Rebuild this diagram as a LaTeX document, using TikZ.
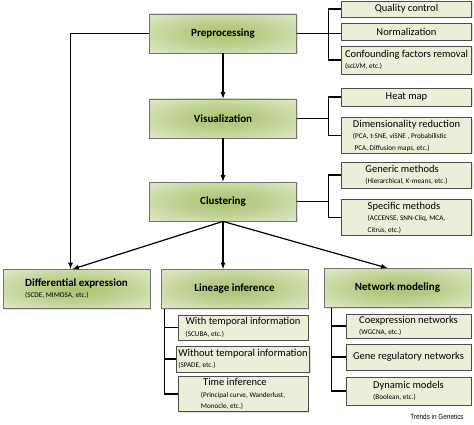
\documentclass[tikz,border=0pt]{standalone}
\usepackage{fontspec}
\setmainfont{Carlito}
\newfontfamily\creditfont{Liberation Sans}[FakeStretch=0.85]
\usetikzlibrary{positioning, shadows, arrows}
\definecolor{subfill}{HTML}{ECEEDA}
\definecolor{glowgreen}{HTML}{A9C36F}
\pgfdeclareradialshading{boxglow}{\pgfpoint{0bp}{0bp}}{color(0bp)=(glowgreen); color(14bp)=(glowgreen!80!white); color(50bp)=(glowgreen!8!white); color(70bp)=(glowgreen!8!white)}
\newcommand{\smalltxt}{\fontsize{7.2}{8.4}\selectfont}

\tikzset{
	mainbox/.style={draw=black!55, thick, shading=boxglow, minimum width=147, minimum height=39, inner sep=2pt, align=left, font=\fontsize{11}{12}\selectfont\bfseries, drop shadow={opacity=0.25, shadow xshift=1.2pt, shadow yshift=-1.2pt}},
	subbox/.style={draw=black!70, thick, fill=subfill, minimum width=130, inner sep=2pt, align=left, font=\fontsize{10.5}{11.5}\selectfont, drop shadow={opacity=0.25, shadow xshift=1.2pt, shadow yshift=-1.2pt}},
	link/.style={line width=1.2pt},
	arr/.style={line width=1.2pt, -latex}
}

\begin{document}
\begin{tikzpicture}[x=1pt, y=-1pt]
		\useasboundingbox (0,0) rectangle (474,425);
		
		\node[mainbox] (pre) at (223,33.5) {Preprocessing};
		\node[mainbox] (vis) at (223,118.5) {Visualization};
		\node[mainbox] (clust) at (223,201.5) {Clustering};
		\node[mainbox] (diff) at (76.5,289) {Differential expression\\[-1pt]{\smalltxt\mdseries (SCDE, MIMOSA, etc.)}};
		\node[mainbox] (lin) at (234.5,289) {Lineage inference};
		\node[mainbox] (net) at (397.5,288) {Network modeling};
		
		\node[subbox, minimum height=16] (qc) at (406.5,9) {Quality control};
		\node[subbox, minimum height=17] (norm) at (406.5,31.5) {Normalization};
		\node[subbox, minimum height=28] (conf) at (406.5,60) {Confounding factors removal\\{\smalltxt (scLVM, etc.)}};
		\node[subbox, minimum height=18] (heat) at (406.5,97) {Heat map};
		\node[subbox, minimum height=33] (dimred) at (406.5,135.5) {Dimensionality reduction\\{\smalltxt (PCA, t-SNE, viSNE , Probabilistic}\\{\smalltxt\ PCA, Diffusion maps, etc.)}};
		\node[subbox, minimum height=26] (gen) at (406.5,175) {Generic methods\\{\smalltxt (Hierarchical, \textit{K}-means, etc.)}};
		\node[subbox, minimum height=31] (spec) at (406.5,217.5) {Specific methods\\{\smalltxt (ACCENSE, SNN-Cliq, MCA,}\\{\smalltxt Citrus, etc.)}};
		
		\node[subbox, minimum height=25] (withT) at (243,327.5) {With temporal information\\{\smalltxt (SCUBA, etc.)}};
		\node[subbox, minimum height=26] (withoutT) at (243,359) {Without temporal information\\{\smalltxt (SPADE, etc.)}};
		\node[subbox, minimum height=32] (timeinf) at (243,394) {\ Time inference\\{\smalltxt (Principal curve, Wanderlust,}\\{\smalltxt Monocle, etc.)}};
		
		\node[subbox, minimum width=125, minimum height=24] (coexp) at (408.5,326) {Coexpression networks\\{\smalltxt (WGCNA, etc.)}};
		\node[subbox, minimum width=125, minimum height=26] (genereg) at (408.5,357) {Gene regulatory networks};
		\node[subbox, minimum width=125, minimum height=28] (dyn) at (408.5,391) {Dynamic models\\{\smalltxt (Boolean, etc.)}};
		
		\node[font=\creditfont\fontsize{7.5}{8}\selectfont] (credit) at (437,417) {Trends in Genetics};
		
		\coordinate (prebar) at ([xshift=-13]qc.west);
		\coordinate (visbar) at ([xshift=-13]heat.west);
		\coordinate (clustbar) at ([xshift=-13]gen.west);
		\coordinate (linbar) at ([xshift=4]lin.south west);
		\coordinate (netbar) at ([xshift=8]net.south west);
		
		\draw[link] (qc.west) -- (prebar) |- (conf.west);
		\draw[link] (pre.east) -- (pre.east -| norm.west);
		\draw[link] (heat.west) -- (visbar) |- (dimred.west);
		\draw[link] (vis.east) -- (vis.east -| visbar);
		\draw[link] (gen.west) -- (clustbar) |- (spec.west);
		\draw[link] (clust.east) -- (clust.east -| clustbar);
		
		\draw[link] (linbar) |- (timeinf.west);
		\foreach \n in {withT, withoutT}
			\draw[link] (\n.west) -- (\n.west -| linbar);
		\draw[link] (netbar) |- (dyn.west);
		\foreach \n in {coexp, genereg}
			\draw[link] (\n.west) -- (\n.west -| netbar);
		
		\draw[arr] (pre) -- (vis);
		\draw[arr] (vis) -- (clust);
		\draw[arr] (pre.west) -| ([xshift=-6]diff.north);
		\draw[arr] (clust.south) -- ([xshift=-4]diff.north);
		\draw[arr] (clust.south) -- (clust.south |- lin.north);
		\draw[arr] (clust.south) -- ([xshift=-10]net.north);
\end{tikzpicture}
\end{document}
